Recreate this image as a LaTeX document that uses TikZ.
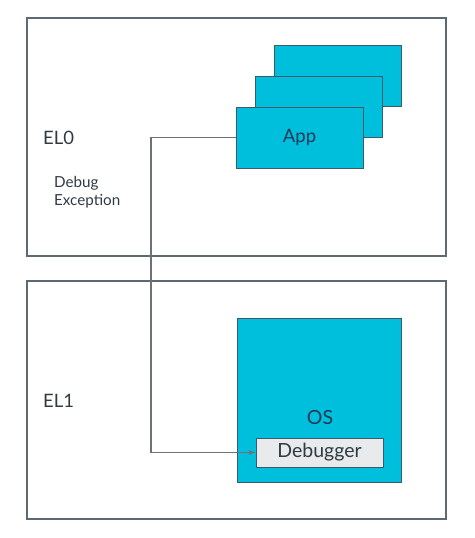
\documentclass[tikz,border=0pt]{standalone}
\usepackage{fontspec}
\setmainfont{Lato}
\usepackage{xcolor}
\usetikzlibrary{arrows}

\definecolor{appcyan}{HTML}{00BFDD}
\definecolor{edgeblue}{HTML}{3D5A6A}
\definecolor{framegray}{HTML}{5E6A72}
\definecolor{dbggray}{HTML}{E8EAEC}
\definecolor{textdark}{HTML}{2F3A44}
\definecolor{textblue}{HTML}{1D3A55}
\definecolor{wiregray}{HTML}{6B7278}

\begin{document}
\begin{tikzpicture}[x=1pt,y=-1pt]
\tikzset{level box/.style={draw=framegray,line width=1.2pt,minimum width=419pt,minimum height=238pt,inner sep=0pt}}
\tikzset{app box/.style={draw=edgeblue,fill=appcyan,line width=1pt,minimum width=127pt,minimum height=61pt,inner sep=0pt,text=textblue,font=\fontsize{18.5}{20}\selectfont}}
\tikzset{level label/.style={anchor=west,inner sep=0pt,text=textdark,font=\fontsize{18.5}{20}\selectfont}}
\tikzset{debugger box/.style={draw=edgeblue,fill=dbggray,line width=1pt,minimum width=127pt,minimum height=29pt,inner sep=0pt,text=textdark,font=\fontsize{19.5}{20}\selectfont}}
\tikzset{wire/.style={draw=wiregray,line width=1.2pt}}

\useasboundingbox (0,0) rectangle (474,538);

% the two levels
\node[level box] (el0box) at (236.5,137) {};
\node[level box] (el1box) at (236.5,400) {};
\node[level label] (el0) at (43,138) {EL0};
\node[level label] (el1) at (43,401) {EL1};
\node[anchor=west,align=left,inner sep=0pt,text=textdark,font=\fontsize{15.2}{18}\selectfont] (exc) at (54,192) {Debug\\Exception};

% apps
\node[app box] (appback) at (338,76) {};
\node[app box] (appmid) at (319,106.5) {};
\node[app box] (app) at (299.5,137.5) {App};

% os
\node[draw=edgeblue,fill=appcyan,line width=1pt,minimum width=164pt,minimum height=164pt,inner sep=0pt] (os) at (319,400) {};
\node[text=textblue,font=\fontsize{19.5}{20}\selectfont,inner sep=0pt] (oslabel) at (320,418) {OS};
\node[debugger box] (debugger) at (319.5,452.5) {Debugger};

\coordinate (bend) at (151,0);
\draw[wire,-latex] (app.west) -- (app.west -| bend) -- (debugger.west -| bend) -- (debugger.west);

\end{tikzpicture}
\end{document}
